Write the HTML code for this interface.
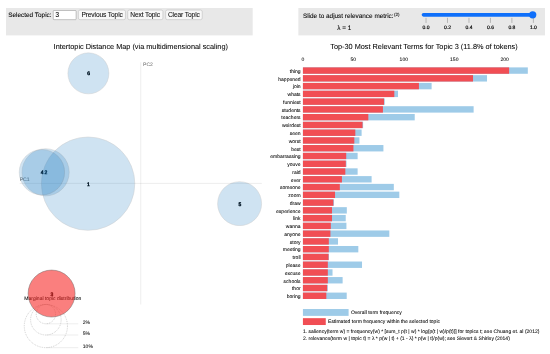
<!DOCTYPE html>
<html><head><meta charset="utf-8"><title>LDAvis</title>
<style>
html,body{margin:0;padding:0;background:#fff;width:550px;height:354px;overflow:hidden}
#page{position:relative;width:550px;height:354px;overflow:hidden}
body{font-family:"Liberation Sans",Arial,Helvetica,sans-serif;text-rendering:geometricPrecision}
#vis{position:absolute;left:6.0px;top:7.7px;width:1210px;height:780px;transform:scale(0.4568);transform-origin:0 0}
.box{position:absolute;top:0;height:50px;width:530px;padding:5px;background:#e8e8e8}
#topicbox{left:0}
#lambdabox{left:640px}
#topicbox label{position:absolute;left:5px;top:7px;font-size:14px;line-height:16px;color:#000;-webkit-text-stroke:0.15px #000}
#topicbox input{position:absolute;left:103px;top:4.8px;width:50.5px;height:21.5px;box-sizing:border-box;border:1.5px solid #808080;border-radius:2px;padding:0 0 3px 4px;font:15px "Liberation Sans",Arial,sans-serif;background:#fff;margin:0;-webkit-text-stroke:0.15px #000}
#topicbox button{position:absolute;top:4.3px;height:22px;box-sizing:border-box;border:1.5px solid #b0b0b0;border-radius:4px;background:#f8f8f8;font:14.5px "Liberation Sans",Arial,sans-serif;letter-spacing:-0.25px;color:#111;padding:0 0 1px 0;margin:0;text-align:center;-webkit-text-stroke:0.15px #000}
#prev{left:158.3px;width:104px}
#next{left:265.5px;width:78px}
#clear{left:348.5px;width:81.5px}
#lz{position:absolute;left:10px;top:9px;font-size:14px;line-height:16px;white-space:nowrap;-webkit-text-stroke:0.15px #000}
#lz sup{font-size:10px;position:relative;top:-5px;vertical-align:baseline;line-height:10px;margin-left:1px}
#lamlabel{position:absolute;left:85px;top:36px;font-size:14px;line-height:16px;-webkit-text-stroke:0.15px #000}
#slider{position:absolute;left:270px;top:5px;width:250px;height:50px}
#lambda{-webkit-appearance:none;appearance:none;position:absolute;left:0;top:1.5px;width:250.5px;height:16px;margin:0;padding:0;background:transparent}
#lambda::-webkit-slider-runnable-track{height:8px;border-radius:4px;background:linear-gradient(to right,#0f6ffa 0,#0f6ffa 243px,transparent 243px)}
#lambda::-webkit-slider-thumb{-webkit-appearance:none;appearance:none;width:16px;height:16px;border-radius:50%;background:#0f6ffa;border:0;margin-top:-4px}
#slideraxis{position:absolute;left:1.5px;top:15px;overflow:visible}
#slideraxis text{font-size:11px;text-anchor:middle;fill:#000;stroke:#000;stroke-width:0.4}
#slideraxis line{stroke-width:1;stroke:#777}
svg#main{position:absolute;left:0;top:59.3px;overflow:visible}
svg#main text{font-family:"Liberation Sans",Arial,Helvetica,sans-serif;font-size:11px;stroke:currentColor;stroke-width:0.12px}
svg#main text.title{font-size:16px;text-anchor:middle}
svg#main text.txt{text-anchor:middle;stroke:#000;stroke-width:1px}
svg#main text.ax{stroke:gray;stroke-width:0.2px}
svg#main text.term{text-anchor:end}
svg#main text.tick{text-anchor:middle}
svg#main text.mid{dominant-baseline:middle}
</style></head>
<body>
<div id="page">
<div id="vis">
 <div class="box" id="topicbox">
  <label for="topic">Selected Topic: </label>
  <input id="topic" type="text" value="3">
  <button id="prev">Previous Topic</button>
  <button id="next">Next Topic</button>
  <button id="clear">Clear Topic</button>
 </div>
 <div class="box" id="lambdabox">
  <div id="lz">Slide to adjust relevance metric:<sup>(2)</sup></div>
  <div id="slider"><input id="lambda" type="range" min="0" max="1" step="0.01" value="1">
   <svg id="slideraxis" width="250" height="25"><g transform="translate(7.5,0)"><line y1="1.5" y2="12.6" stroke="#000"/><text y="25.1">0.0</text></g><g transform="translate(54.5,0)"><line y1="1.5" y2="12.6" stroke="#000"/><text y="25.1">0.2</text></g><g transform="translate(101.5,0)"><line y1="1.5" y2="12.6" stroke="#000"/><text y="25.1">0.4</text></g><g transform="translate(148.5,0)"><line y1="1.5" y2="12.6" stroke="#000"/><text y="25.1">0.6</text></g><g transform="translate(195.5,0)"><line y1="1.5" y2="12.6" stroke="#000"/><text y="25.1">0.8</text></g><g transform="translate(242.5,0)"><line y1="1.5" y2="12.6" stroke="#000"/><text y="25.1">1.0</text></g></svg>
  </div>
  <label id="lamlabel">&#955; = 1</label>
 </div>
 <svg id="main" width="1210" height="780">
<g transform="translate(30,60)">
<line x1="0" x2="530" y1="265" y2="265" stroke="gray" opacity="0.3"/>
<text x="0" y="260" fill="gray" stroke="gray" class="ax">PC1</text>
<line x1="265" x2="265" y1="0" y2="530" stroke="gray" opacity="0.3"/>
<text x="270" y="7" fill="gray" stroke="gray" class="ax">PC2</text>
<circle cx="57.28" cy="551.14" r="21.14" fill="none" stroke="#999" stroke-dasharray="2 2"/>
<line x1="57.28" x2="128.2" y1="572.29" y2="572.29" stroke="gray" opacity="0.3"/>
<circle cx="57.28" cy="563.43" r="33.43" fill="none" stroke="#999" stroke-dasharray="2 2"/>
<line x1="57.28" x2="128.2" y1="596.86" y2="596.86" stroke="gray" opacity="0.3"/>
<circle cx="57.28" cy="577.28" r="47.28" fill="none" stroke="#999" stroke-dasharray="2 2"/>
<line x1="57.28" x2="128.2" y1="624.56" y2="624.56" stroke="gray" opacity="0.3"/>
<text x="10" y="520">Marginal topic distribution</text>
<text x="138.2" y="572.29">2%</text>
<text x="138.2" y="596.86">5%</text>
<text x="138.2" y="624.56">10%</text>
<text class="txt" x="150.23" y="270.05">1</text>
<text class="txt" x="57.19" y="245.09">2</text>
<text class="txt" x="70.32" y="510.64">3</text>
<text class="txt" x="49.09" y="245.09">4</text>
<text class="txt" x="481.88" y="313.83">5</text>
<text class="txt" x="150.89" y="28.59">6</text>
<circle cx="149.73" cy="265.55" r="102.23" fill="rgb(15,115,190)" stroke="black" opacity="0.2"/>
<circle cx="56.69" cy="240.59" r="51.66" fill="rgb(15,115,190)" stroke="black" opacity="0.2"/>
<circle cx="69.82" cy="506.14" r="51.44" fill="rgb(247,43,40)" stroke="black" opacity="0.6"/>
<circle cx="48.59" cy="240.59" r="49.69" fill="rgb(15,115,190)" stroke="black" opacity="0.2"/>
<circle cx="481.38" cy="309.33" r="48.16" fill="rgb(15,115,190)" stroke="black" opacity="0.2"/>
<circle cx="150.39" cy="24.09" r="44.88" fill="rgb(15,115,190)" stroke="black" opacity="0.2"/>
</g>
<text x="295" y="30" class="title">Intertopic Distance Map (via multidimensional scaling)</text>
<g transform="translate(650,60)">
<rect x="0" y="11" height="14" width="492.34" fill="rgb(158,203,232)"/>
<text x="-5" y="23" class="term">thing</text>
<rect x="0" y="28" height="14" width="403.02" fill="rgb(158,203,232)"/>
<text x="-5" y="40" class="term">happened</text>
<rect x="0" y="45" height="14" width="281.74" fill="rgb(158,203,232)"/>
<text x="-5" y="57" class="term">join</text>
<rect x="0" y="62" height="14" width="208.19" fill="rgb(158,203,232)"/>
<text x="-5" y="74" class="term">whats</text>
<rect x="0" y="79" height="14" width="179.07" fill="rgb(158,203,232)"/>
<text x="-5" y="91" class="term">funniest</text>
<rect x="0" y="96" height="14" width="373.69" fill="rgb(158,203,232)"/>
<text x="-5" y="108" class="term">students</text>
<rect x="0" y="113" height="14" width="244.75" fill="rgb(158,203,232)"/>
<text x="-5" y="125" class="term">teachers</text>
<rect x="0" y="130" height="14" width="131.79" fill="rgb(158,203,232)"/>
<text x="-5" y="142" class="term">weirdest</text>
<rect x="0" y="147" height="14" width="128.5" fill="rgb(158,203,232)"/>
<text x="-5" y="159" class="term">seen</text>
<rect x="0" y="164" height="14" width="123.69" fill="rgb(158,203,232)"/>
<text x="-5" y="176" class="term">worst</text>
<rect x="0" y="181" height="14" width="176.23" fill="rgb(158,203,232)"/>
<text x="-5" y="193" class="term">best</text>
<rect x="0" y="198" height="14" width="119.75" fill="rgb(158,203,232)"/>
<text x="-5" y="210" class="term">embarrassing</text>
<rect x="0" y="215" height="14" width="95.45" fill="rgb(158,203,232)"/>
<text x="-5" y="227" class="term">youve</text>
<rect x="0" y="232" height="14" width="119.75" fill="rgb(158,203,232)"/>
<text x="-5" y="244" class="term">raid</text>
<rect x="0" y="249" height="14" width="150.39" fill="rgb(158,203,232)"/>
<text x="-5" y="261" class="term">ever</text>
<rect x="0" y="266" height="14" width="198.99" fill="rgb(158,203,232)"/>
<text x="-5" y="278" class="term">someone</text>
<rect x="0" y="283" height="14" width="211.03" fill="rgb(158,203,232)"/>
<text x="-5" y="295" class="term">zoom</text>
<rect x="0" y="300" height="14" width="68.08" fill="rgb(158,203,232)"/>
<text x="-5" y="312" class="term">draw</text>
<rect x="0" y="317" height="14" width="96.1" fill="rgb(158,203,232)"/>
<text x="-5" y="329" class="term">experience</text>
<rect x="0" y="334" height="14" width="93.7" fill="rgb(158,203,232)"/>
<text x="-5" y="346" class="term">link</text>
<rect x="0" y="351" height="14" width="95.23" fill="rgb(158,203,232)"/>
<text x="-5" y="363" class="term">wanna</text>
<rect x="0" y="368" height="14" width="189.14" fill="rgb(158,203,232)"/>
<text x="-5" y="380" class="term">anyone</text>
<rect x="0" y="385" height="14" width="76.84" fill="rgb(158,203,232)"/>
<text x="-5" y="397" class="term">story</text>
<rect x="0" y="402" height="14" width="121.28" fill="rgb(158,203,232)"/>
<text x="-5" y="414" class="term">meeting</text>
<rect x="0" y="419" height="14" width="57.14" fill="rgb(158,203,232)"/>
<text x="-5" y="431" class="term">troll</text>
<rect x="0" y="436" height="14" width="129.38" fill="rgb(158,203,232)"/>
<text x="-5" y="448" class="term">please</text>
<rect x="0" y="453" height="14" width="64.8" fill="rgb(158,203,232)"/>
<text x="-5" y="465" class="term">excuse</text>
<rect x="0" y="470" height="14" width="86.91" fill="rgb(158,203,232)"/>
<text x="-5" y="482" class="term">schools</text>
<rect x="0" y="487" height="14" width="54.51" fill="rgb(158,203,232)"/>
<text x="-5" y="499" class="term">thor</text>
<rect x="0" y="504" height="14" width="95.88" fill="rgb(158,203,232)"/>
<text x="-5" y="516" class="term">boring</text>
<rect x="0" y="11" height="14" width="451.4" fill="rgb(241,78,84)"/>
<rect x="0" y="28" height="14" width="372.37" fill="rgb(241,78,84)"/>
<rect x="0" y="45" height="14" width="253.94" fill="rgb(241,78,84)"/>
<rect x="0" y="62" height="14" width="200.09" fill="rgb(241,78,84)"/>
<rect x="0" y="79" height="14" width="177.54" fill="rgb(241,78,84)"/>
<rect x="0" y="96" height="14" width="175.13" fill="rgb(241,78,84)"/>
<rect x="0" y="113" height="14" width="143.17" fill="rgb(241,78,84)"/>
<rect x="0" y="130" height="14" width="130.47" fill="rgb(241,78,84)"/>
<rect x="0" y="147" height="14" width="114.71" fill="rgb(241,78,84)"/>
<rect x="0" y="164" height="14" width="112.52" fill="rgb(241,78,84)"/>
<rect x="0" y="181" height="14" width="110.55" fill="rgb(241,78,84)"/>
<rect x="0" y="198" height="14" width="94.79" fill="rgb(241,78,84)"/>
<rect x="0" y="215" height="14" width="93.91" fill="rgb(241,78,84)"/>
<rect x="0" y="232" height="14" width="92.82" fill="rgb(241,78,84)"/>
<rect x="0" y="249" height="14" width="85.38" fill="rgb(241,78,84)"/>
<rect x="0" y="266" height="14" width="80.78" fill="rgb(241,78,84)"/>
<rect x="0" y="283" height="14" width="70.27" fill="rgb(241,78,84)"/>
<rect x="0" y="300" height="14" width="66.55" fill="rgb(241,78,84)"/>
<rect x="0" y="317" height="14" width="63.7" fill="rgb(241,78,84)"/>
<rect x="0" y="334" height="14" width="63.7" fill="rgb(241,78,84)"/>
<rect x="0" y="351" height="14" width="61.08" fill="rgb(241,78,84)"/>
<rect x="0" y="368" height="14" width="60.2" fill="rgb(241,78,84)"/>
<rect x="0" y="385" height="14" width="56.7" fill="rgb(241,78,84)"/>
<rect x="0" y="402" height="14" width="56.7" fill="rgb(241,78,84)"/>
<rect x="0" y="419" height="14" width="56.04" fill="rgb(241,78,84)"/>
<rect x="0" y="436" height="14" width="54.51" fill="rgb(241,78,84)"/>
<rect x="0" y="453" height="14" width="54.51" fill="rgb(241,78,84)"/>
<rect x="0" y="470" height="14" width="54.51" fill="rgb(241,78,84)"/>
<rect x="0" y="487" height="14" width="52.98" fill="rgb(241,78,84)"/>
<rect x="0" y="504" height="14" width="51.23" fill="rgb(241,78,84)"/>
<text x="0" y="-3" class="tick">0</text>
<text x="110.42" y="-3" class="tick">50</text>
<text x="220.83" y="-3" class="tick">100</text>
<text x="331.25" y="-3" class="tick">150</text>
<text x="441.67" y="-3" class="tick">200</text>
<text x="265" y="-30" class="title">Top-30 Most Relevant Terms for Topic 3 (11.8% of tokens)</text>
<rect x="0" y="540" height="15" width="100" fill="rgb(158,203,232)"/>
<text x="105" y="547.5" class="mid">Overall term frequency</text>
<rect x="0" y="560" height="15" width="50" fill="rgb(241,78,84)"/>
<text x="55" y="567.5" class="mid">Estimated term frequency within the selected topic</text>
<text x="0" y="590" class="mid">1. saliency(term w) = frequency(w) * [sum_t p(t | w) * log(p(t | w)/p(t))] for topics t; see Chuang et. al (2012)</text>
<text x="0" y="605" class="mid">2. relevance(term w | topic t) = λ * p(w | t) + (1 - λ) * p(w | t)/p(w); see Sievert &amp; Shirley (2014)</text>
</g>
 </svg>
</div>
</div>
</body></html>
